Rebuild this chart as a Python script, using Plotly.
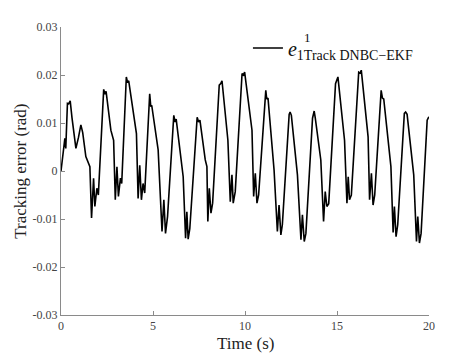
import plotly.graph_objects as go

time_s = [0.00, 0.10, 0.21, 0.26, 0.35, 0.42, 0.50, 0.60, 0.81, 0.95, 1.08, 1.18, 1.35, 1.57, 1.66, 1.77, 1.84, 1.95, 2.03,
          2.32, 2.39, 2.45, 2.71, 2.86, 2.95, 3.04, 3.12, 3.23, 3.30,
          3.55, 3.62, 3.68, 4.10, 4.19, 4.28, 4.37, 4.46, 4.55,
          4.82, 4.88, 4.93, 5.28, 5.49, 5.59, 5.68, 5.79,
          6.13, 6.20, 6.26, 6.64, 6.77, 6.84, 6.91, 7.00,
          7.40, 7.48, 7.55, 7.84, 7.93, 7.98, 8.06, 8.15, 8.24,
          8.60, 8.68, 8.75, 9.07, 9.20, 9.29, 9.36, 9.47,
          9.84, 9.92, 9.98, 10.38, 10.47, 10.56, 10.65, 10.74,
          11.13, 11.18, 11.25, 11.58, 11.76, 11.85, 11.95, 12.03,
          12.40, 12.45, 12.52, 12.85, 13.04, 13.12, 13.22, 13.31,
          13.67, 13.76, 13.82, 14.12, 14.27, 14.36, 14.45, 14.55,
          14.92, 15.00, 15.05, 15.41, 15.54, 15.61, 15.68, 15.78,
          16.18, 16.26, 16.32, 16.69, 16.77, 16.87, 16.96, 17.05,
          17.40, 17.47, 17.54, 17.93, 18.05, 18.12, 18.21, 18.30,
          18.66, 18.73, 18.81, 19.17, 19.32, 19.39, 19.48, 19.57,
          19.90, 19.99]

error_rad = [0.0000, 0.0035, 0.0068, 0.0047, 0.0141, 0.0140, 0.0146, 0.0110, 0.0047, 0.0070, 0.0096, 0.0080, 0.0030, 0.0009, -0.0098, -0.0015, -0.0074, -0.0036, -0.0050,
             0.0170, 0.0160, 0.0166, 0.0085, 0.0064, -0.0060, 0.0009, -0.0053, -0.0015, -0.0026,
             0.0196, 0.0184, 0.0188, 0.0078, -0.0057, 0.0012, -0.0060, -0.0026, -0.0046,
             0.0161, 0.0134, 0.0137, 0.0044, -0.0126, -0.0060, -0.0130, -0.0095,
             0.0116, 0.0102, 0.0108, -0.0012, -0.0140, -0.0085, -0.0142, -0.0120,
             0.0112, 0.0102, 0.0106, 0.0023, 0.0009, -0.0105, -0.0036, -0.0088, -0.0067,
             0.0179, 0.0182, 0.0188, 0.0064, -0.0064, -0.0008, -0.0067, -0.0043,
             0.0203, 0.0200, 0.0206, 0.0085, -0.0053, -0.0005, -0.0067, -0.0050,
             0.0168, 0.0150, 0.0152, 0.0002, -0.0126, -0.0071, -0.0133, -0.0112,
             0.0118, 0.0123, 0.0116, -0.0008, -0.0143, -0.0091, -0.0147, -0.0130,
             0.0110, 0.0125, 0.0110, 0.0023, -0.0105, -0.0043, -0.0074, -0.0068,
             0.0182, 0.0190, 0.0196, 0.0064, -0.0067, -0.0012, -0.0060, -0.0050,
             0.0206, 0.0204, 0.0210, 0.0071, -0.0060, -0.0005, -0.0071, -0.0050,
             0.0168, 0.0152, 0.0150, 0.0009, -0.0128, -0.0074, -0.0137, -0.0112,
             0.0120, 0.0123, 0.0118, -0.0008, -0.0147, -0.0095, -0.0150, -0.0130,
             0.0106, 0.0113]

x_ticks = [0, 5, 10, 15, 20]
x_tick_labels = ["0", "5", "10", "15", "20"]
y_ticks = [-0.03, -0.02, -0.01, 0, 0.01, 0.02, 0.03]
y_tick_labels = ["-0.03", "-0.02", "-0.01", "0", "0.01", "0.02", "0.03"]

serif = "Liberation Serif, DejaVu Serif, serif"

fig = go.Figure()
fig.add_trace(go.Scatter(
    x=time_s, y=error_rad, mode="lines",
    line=dict(color="black", width=1.6),
    name="<i>e</i><sub>1Track DNBC\u2212EKF</sub>",
    showlegend=True,
))

# page has an 8px body margin, so the figure is 8px smaller and offsets are reduced
fig.update_layout(
    width=466, height=347,
    margin=dict(l=53, r=45, t=19, b=40, autoexpand=False),
    paper_bgcolor="white", plot_bgcolor="white",
    font=dict(family=serif, color="#222"),
    showlegend=True,
    legend=dict(x=0.508, y=0.995, xanchor="left", yanchor="top",
                bgcolor="rgba(0,0,0,0)", borderwidth=0,
                font=dict(family=serif, size=20, color="#111"),
                itemwidth=30),
    xaxis=dict(range=[0, 20], tickvals=x_ticks, ticktext=x_tick_labels, automargin=False,
               showgrid=False, zeroline=False, showline=True, linecolor="#8a8a8a", linewidth=1,
               ticks="inside", ticklen=4, tickcolor="#8a8a8a",
               tickfont=dict(family=serif, size=12, color="#444")),
    yaxis=dict(range=[-0.03, 0.03], tickvals=y_ticks, ticktext=y_tick_labels, automargin=False,
               showgrid=False, zeroline=False, showline=True, linecolor="#8a8a8a", linewidth=1,
               ticks="inside", ticklen=4, tickcolor="#8a8a8a",
               tickfont=dict(family=serif, size=12, color="#444")),
)

fig.add_annotation(x=0.5, y=-0.10, xref="paper", yref="paper", text="Time (s)",
                   showarrow=False, font=dict(family=serif, size=17, color="#222"),
                   xanchor="center", yanchor="middle")
fig.add_annotation(x=-0.112, y=0.5, xref="paper", yref="paper", text="Tracking error (rad)",
                   showarrow=False, textangle=-90, font=dict(family=serif, size=17, color="#222"),
                   xanchor="center", yanchor="middle")
fig.add_annotation(x=0.656, y=0.962, xref="paper", yref="paper", text="1",
                   showarrow=False, font=dict(family=serif, size=13, color="#111"),
                   xanchor="left", yanchor="middle")

fig.write_html("out.html")
